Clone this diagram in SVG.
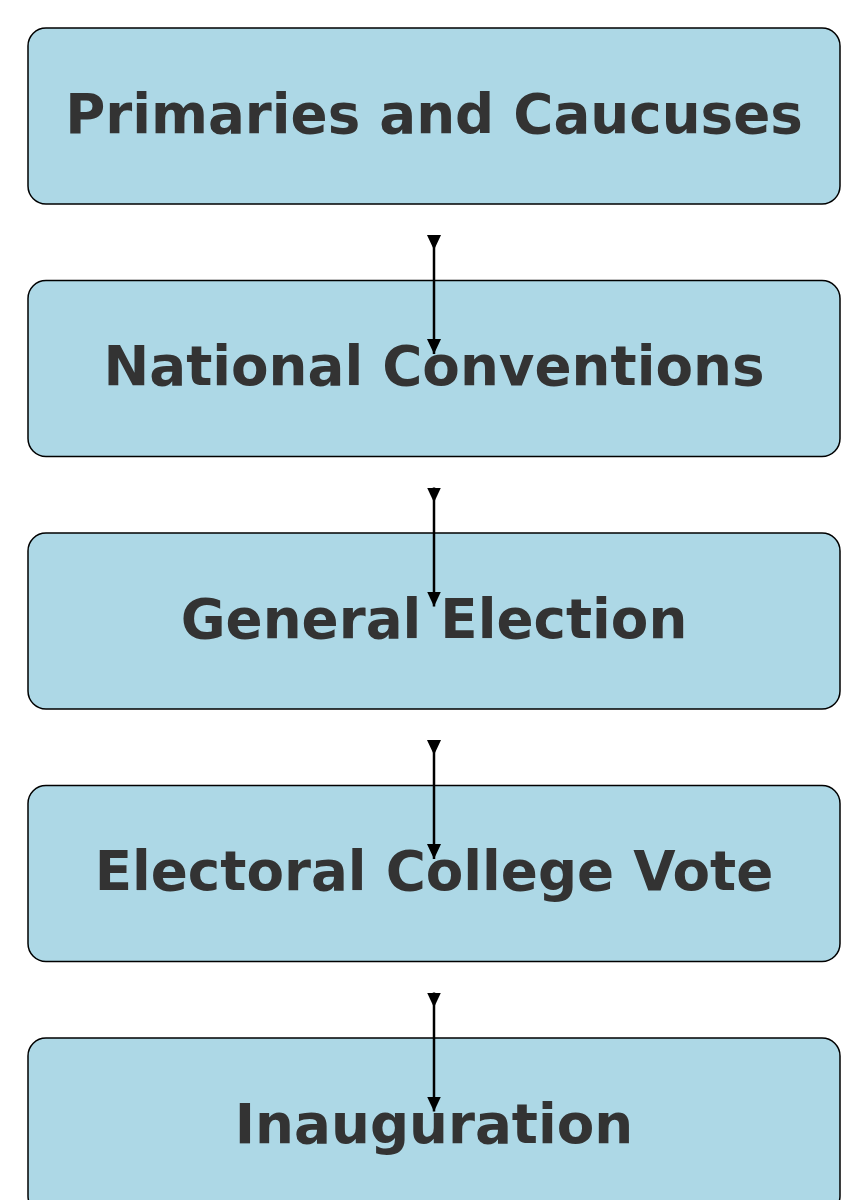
<svg xmlns="http://www.w3.org/2000/svg" width="868" height="1200" viewBox="0 0 868 1200">
<style>
.box{fill:#ADD8E6;stroke:#000;stroke-width:1.5}
.lbl{font-family:"DejaVu Sans",sans-serif;font-weight:bold;font-size:54.7px;fill:#333;text-anchor:middle}
.edge{stroke:#000;stroke-width:2.5;fill:none;marker-start:url(#ms);marker-end:url(#me)}
</style>
<defs>
<marker id="me" markerWidth="15" markerHeight="15" refX="15" refY="7.5" orient="auto" markerUnits="userSpaceOnUse"><path d="M0,0.5 L15,7.5 L0,14.5 z" fill="#000"/></marker>
<marker id="ms" markerWidth="15" markerHeight="15" refX="0" refY="7.5" orient="auto" markerUnits="userSpaceOnUse"><path d="M0,0.5 L15,7.5 L0,14.5 z" fill="#000"/></marker>
</defs>
<g id="n1"><rect class="box" x="28" y="28" width="812" height="176" rx="18"/><text class="lbl" x="434" y="132.5">Primaries and Caucuses</text></g>
<g id="n2"><rect class="box" x="28" y="280.5" width="812" height="176" rx="18"/><text class="lbl" x="434" y="385">National Conventions</text></g>
<g id="n3"><rect class="box" x="28" y="533" width="812" height="176" rx="18"/><text class="lbl" x="434" y="637.5">General Election</text></g>
<g id="n4"><rect class="box" x="28" y="785.5" width="812" height="176" rx="18"/><text class="lbl" x="434" y="890">Electoral College Vote</text></g>
<g id="n5"><rect class="box" x="28" y="1038" width="812" height="176" rx="18"/><text class="lbl" x="434" y="1142.5">Inauguration</text></g>
<g id="edges">
<line class="edge" x1="434" y1="235" x2="434" y2="354"/>
<line class="edge" x1="434" y1="487.5" x2="434" y2="606.5"/>
<line class="edge" x1="434" y1="740" x2="434" y2="859"/>
<line class="edge" x1="434" y1="992.5" x2="434" y2="1111.5"/>
</g>
</svg>
